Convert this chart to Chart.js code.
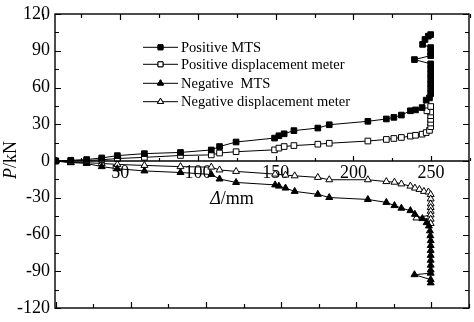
<!DOCTYPE html>
<html>
<head>
<meta charset="utf-8">
<script src="https://cdn.jsdelivr.net/npm/chart.js@4.4.1/dist/chart.umd.min.js"></script>
<style>
  html, body { margin: 0; padding: 0; background: #fff; }
  #wrap { width: 474px; height: 322px; }
</style>
</head>
<body>
<div id="wrap"><canvas id="pkChart"></canvas></div>
<script>
/* P - Δ curves */
const posMtsX = [0, 10, 20.6, 30.6, 41, 59, 83, 103.5, 109, 120, 145.6, 148.5, 152, 158.5, 174.4, 182, 207.7, 220, 225, 230, 236, 239.4, 243.8, 246.5, 248.7, 249.5, 249.5, 249.5, 249.5, 249.5, 249.5, 249.5, 238.7, 249.5, 249.5, 249.5, 244.1, 245.7, 247.9, 249.5];
const posMtsY = [0, 0.6, 1.2, 2.5, 4.4, 6, 7, 9, 11.8, 15.5, 18.7, 20.6, 22.2, 24.8, 26.9, 29.6, 32.4, 34.3, 35.6, 37.5, 41, 41.7, 43.6, 49.7, 51.5, 55, 59, 63, 67, 71, 75, 79.3, 82.8, 86, 89, 92.6, 95.2, 99.2, 101.9, 103.2];

const posDispX = [0, 10, 20.6, 30.6, 41, 59, 83, 103.5, 109, 120, 145.6, 148.5, 152, 158.5, 174.4, 182, 207.7, 220, 225, 230, 236, 239.4, 243.8, 246.5, 248.7, 249.5, 249.5, 249.5, 249.5, 249.5, 247, 249.5];
const posDispY = [0, 0, 0.4, 1, 2, 3, 4.5, 5, 6.5, 7.6, 9.1, 10.5, 11.8, 12.6, 13.7, 14.5, 16.3, 17.6, 18.4, 19.2, 20.3, 21, 21.9, 23.2, 25, 28, 31, 34, 37, 40, 41, 44.5];

const negMtsX = [0, 10, 20.6, 30.6, 41, 59, 83, 103.5, 109, 120, 146, 148.5, 152.9, 159, 174.4, 182, 207.7, 220, 225.4, 230, 236, 239, 244, 246.8, 248.3, 249, 249.3, 249.5, 249.5, 249.5, 249.5, 249.5, 249.5, 249.5, 249.5, 238.7, 249.5, 249.5];
const negMtsY = [0, -1, -2, -4.6, -6.3, -8.1, -9.4, -11, -14.7, -17.5, -19.5, -20.5, -22.1, -24.8, -27.2, -29.8, -31.4, -33.8, -36.4, -38.5, -40.5, -43.5, -47, -50.3, -53, -57, -61, -65, -69, -73, -77, -81, -85, -89, -91.6, -92.8, -96.8, -99.5];

const negDispX = [0, 10, 20.6, 30.6, 41, 59, 83, 103.5, 109, 120, 146, 152.9, 159, 174.4, 182, 207.7, 220, 225.4, 230, 236, 239, 242, 245, 248, 249.5, 249.5, 249.5, 249.5, 249.5, 249.5, 240, 249.5, 249.5];
const negDispY = [0, -1.4, -1.4, -2, -2.8, -3.6, -4.6, -5, -7.3, -8.5, -10.7, -11.5, -12.1, -13.4, -15.3, -15.3, -16.8, -17.3, -18.7, -20.5, -22.1, -23.2, -24.8, -25.3, -27.4, -31, -35, -38, -41, -44, -46.5, -47.5, -51];

const seriesNames = ["Positive MTS", "Positive displacement meter", "Negative  MTS", "Negative displacement meter"];
const xLabelTicks = [50, 100, 150, 200, 250];
const xMajorTicks = [0, 50, 100, 150, 200, 250];
const xMinorTicks = [25, 75, 125, 175, 225, 275];
const yMajorTicks = [-120, -90, -60, -30, 0, 30, 60, 90, 120];
const yMinorTicks = [-105, -75, -45, -15, 15, 45, 75, 105];

const FONT = "'Liberation Serif', 'Times New Roman', serif";

function pts(xs, ys) {
    return xs.map(function (x, i) { return { x: x, y: ys[i] }; });
}

function series(label, xs, ys, shape, filled) {
    return {
        label: label,
        data: pts(xs, ys),
        showLine: true,
        borderColor: "#000",
        borderWidth: 1,
        pointStyle: shape,
        pointRadius: shape === "rect" ? 4 : 4,
        pointBorderWidth: 1,
        pointBorderColor: "#000",
        pointBackgroundColor: filled ? "#000" : "#fff",
        xAxisID: "x",
        yAxisID: "y"
    };
}

/* frame, inward ticks, centre axis line, titles and legend */
const framePlugin = {
    id: "frame",
    afterDraw: function (chart) {
        const ctx = chart.ctx;
        const a = chart.chartArea;
        const xs = chart.scales.x;
        const xc = chart.scales.xc;
        const ys = chart.scales.y;
        const y0 = ys.getPixelForValue(0);

        ctx.save();
        ctx.strokeStyle = "#000";
        ctx.lineWidth = 1.4;
        ctx.strokeRect(a.left, a.top, a.right - a.left, a.bottom - a.top);
        ctx.beginPath();
        ctx.moveTo(a.left, y0);
        ctx.lineTo(a.right, y0);
        ctx.stroke();

        ctx.lineWidth = 1.2;
        ctx.beginPath();
        function vTick(sc, v, yy, len) {
            const px = Math.round(sc.getPixelForValue(v)) + 0.5;
            ctx.moveTo(px, yy);
            ctx.lineTo(px, yy + len);
        }
        xMajorTicks.forEach(function (v) {
            vTick(xs, v, a.bottom, -6);
            vTick(xc, v, a.top, 6);
            if (v > 8) vTick(xc, v, y0, -5);
        });
        xMinorTicks.forEach(function (v) {
            vTick(xs, v, a.bottom, -4);
            vTick(xc, v, a.top, 4);
            vTick(xc, v, y0, -3);
        });
        function hTick(v, len) {
            const py = Math.round(ys.getPixelForValue(v)) + 0.5;
            ctx.moveTo(a.left, py);
            ctx.lineTo(a.left + len, py);
            ctx.moveTo(a.right, py);
            ctx.lineTo(a.right - len, py);
        }
        yMajorTicks.forEach(function (v) { hTick(v, 6); });
        yMinorTicks.forEach(function (v) { hTick(v, 4); });
        ctx.stroke();

        // axis titles
        ctx.fillStyle = "#000";
        ctx.textBaseline = "middle";
        ctx.save();
        ctx.translate(11, 160);
        ctx.rotate(-Math.PI / 2);
        ctx.font = "italic 18px " + FONT;
        const wP = ctx.measureText("P").width;
        ctx.font = "18px " + FONT;
        const wRest = ctx.measureText("/kN").width;
        let sx = -(wP + wRest) / 2;
        ctx.textAlign = "left";
        ctx.font = "italic 18px " + FONT;
        ctx.fillText("P", sx, 0);
        ctx.font = "18px " + FONT;
        ctx.fillText("/kN", sx + wP, 0);
        ctx.restore();

        ctx.textAlign = "left";
        ctx.font = "italic 18px " + FONT;
        const wD = ctx.measureText("\u0394").width;
        ctx.font = "18px " + FONT;
        const wMm = ctx.measureText("/mm").width;
        const tx = 232 - (wD + wMm) / 2;
        ctx.font = "italic 18px " + FONT;
        ctx.fillText("\u0394", tx, 199);
        ctx.font = "18px " + FONT;
        ctx.fillText("/mm", tx + wD, 199);

        // legend
        const rowY = [47.3, 64.3, 83.3, 101.7];
        ctx.font = "14.5px " + FONT;
        chart.data.datasets.forEach(function (ds, i) {
            const yy = rowY[i];
            ctx.lineWidth = 1;
            ctx.strokeStyle = "#000";
            ctx.beginPath();
            ctx.moveTo(143, yy);
            ctx.lineTo(178, yy);
            ctx.stroke();
            ctx.fillStyle = ds.pointBackgroundColor;
            Chart.helpers.drawPoint(ctx, {
                pointStyle: ds.pointStyle,
                radius: 3.5,
                borderWidth: 1,
                rotation: 0
            }, 160.5, yy);
            ctx.fill();
            ctx.stroke();
            ctx.fillStyle = "#000";
            ctx.textBaseline = "middle";
            ctx.fillText(seriesNames[i], 181, yy + 0.5);
        });
        ctx.restore();
    }
};

new Chart(document.getElementById("pkChart"), {
    type: "scatter",
    data: {
        datasets: [
            series(seriesNames[0], posMtsX, posMtsY, "rect", true),
            series(seriesNames[1], posDispX, posDispY, "rect", false),
            series(seriesNames[2], negMtsX, negMtsY, "triangle", true),
            series(seriesNames[3], negDispX, negDispY, "triangle", false)
        ]
    },
    options: {
        responsive: true,
        maintainAspectRatio: false,
        animation: false,
        layout: {
            padding: { left: 0, top: 10, right: 5, bottom: 10 }
        },
        plugins: {
            legend: { display: false },
            tooltip: { enabled: false }
        },
        scales: {
            x: {
                type: "linear",
                display: false,
                min: -0.5,
                max: 275
            },
            xc: {
                type: "linear",
                axis: "x",
                position: { y: 0 },
                min: 8,
                max: 274.4,
                afterBuildTicks: function (scale) {
                    scale.ticks = xLabelTicks.map(function (v) { return { value: v }; });
                },
                ticks: {
                    color: "#000",
                    padding: 3,
                    maxRotation: 0,
                    font: { family: FONT, size: 18, lineHeight: 1 }
                },
                grid: { display: false, drawTicks: false },
                border: { display: false }
            },
            y: {
                type: "linear",
                position: "left",
                min: -120,
                max: 120,
                afterBuildTicks: function (scale) {
                    scale.ticks = yMajorTicks.map(function (v) { return { value: v }; });
                },
                afterFit: function (scale) { scale.width = 55; },
                ticks: {
                    color: "#000",
                    padding: 5,
                    font: { family: FONT, size: 18, lineHeight: 1 }
                },
                grid: { display: false, drawTicks: false },
                border: { display: false }
            }
        }
    },
    plugins: [framePlugin]
});
</script>
</body>
</html>
